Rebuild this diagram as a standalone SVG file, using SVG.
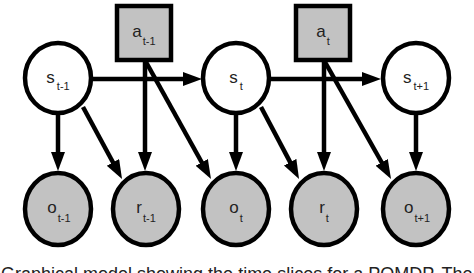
<svg xmlns="http://www.w3.org/2000/svg" width="474" height="273" viewBox="0 0 474 273">
<style>
.st{fill:#ffffff;stroke:#000;stroke-width:4.5}
.ob{fill:#c2c2c2;stroke:#000;stroke-width:4.5}
.lb{font-family:"Liberation Sans",Arial,sans-serif;font-size:17px;fill:#222;text-anchor:middle}
.sb{font-size:11px}
.e{stroke:#000;stroke-width:4.5;fill:none;marker-end:url(#ah)}
.cap{font-family:"Liberation Sans",Arial,sans-serif;font-size:18px;fill:#222}
</style>
<defs>
<marker id="ah" markerUnits="userSpaceOnUse" markerWidth="20" markerHeight="16" refX="11" refY="7" orient="auto">
<path d="M0,0 L19,7 L0,14 z" fill="#000"/>
</marker>
</defs>
<rect width="474" height="273" fill="#fff"/>
<g id="edges">
<line class="e" x1="93" y1="79" x2="194" y2="79"/>
<line class="e" x1="271" y1="79" x2="373" y2="79"/>
<line class="e" x1="58" y1="114" x2="58" y2="163"/>
<line class="e" x1="83" y1="107" x2="118.2" y2="172"/>
<line class="e" x1="145" y1="62" x2="145" y2="163"/>
<line class="e" x1="146" y1="62" x2="207.1" y2="172"/>
<line class="e" x1="236" y1="114" x2="236" y2="163"/>
<line class="e" x1="261" y1="107" x2="295.3" y2="171.9"/>
<line class="e" x1="324" y1="62" x2="324" y2="163"/>
<line class="e" x1="325" y1="62" x2="387.1" y2="172"/>
<line class="e" x1="416" y1="114" x2="416" y2="163"/>
</g>
<g id="s_tm1"><ellipse class="st" cx="58" cy="78" rx="33" ry="35"/><text class="lb" x="58" y="83">s<tspan class="sb" dx="2" dy="7">t-1</tspan></text></g>
<g id="s_t"><ellipse class="st" cx="236" cy="78" rx="33" ry="35"/><text class="lb" x="236" y="83">s<tspan class="sb" dx="2" dy="7">t</tspan></text></g>
<g id="s_tp1"><ellipse class="st" cx="416" cy="78" rx="33" ry="35"/><text class="lb" x="416" y="83">s<tspan class="sb" dx="2" dy="7">t+1</tspan></text></g>
<g id="a_tm1"><rect class="ob" x="117" y="6" width="54" height="54"/><text class="lb" x="144" y="37">a<tspan class="sb" dx="1" dy="8">t-1</tspan></text></g>
<g id="a_t"><rect class="ob" x="296" y="6" width="54" height="54"/><text class="lb" x="323" y="37">a<tspan class="sb" dx="1" dy="8">t</tspan></text></g>
<g id="o_tm1"><ellipse class="ob" cx="58" cy="209" rx="33" ry="36"/><text class="lb" x="59" y="213">o<tspan class="sb" dx="1" dy="9">t-1</tspan></text></g>
<g id="r_tm1"><ellipse class="ob" cx="146" cy="209" rx="33" ry="36"/><text class="lb" x="146" y="213">r<tspan class="sb" dx="1" dy="9">t-1</tspan></text></g>
<g id="o_t"><ellipse class="ob" cx="236" cy="209" rx="33" ry="36"/><text class="lb" x="236" y="213">o<tspan class="sb" dx="1" dy="9">t</tspan></text></g>
<g id="r_t"><ellipse class="ob" cx="324" cy="209" rx="33" ry="36"/><text class="lb" x="324" y="213">r<tspan class="sb" dx="1" dy="9">t</tspan></text></g>
<g id="o_tp1"><ellipse class="ob" cx="416" cy="209" rx="33" ry="36"/><text class="lb" x="417" y="213">o<tspan class="sb" dx="1" dy="9">t+1</tspan></text></g>
<text class="cap" x="1" y="280">Graphical model showing the time slices for a POMDP. The</text>
</svg>
